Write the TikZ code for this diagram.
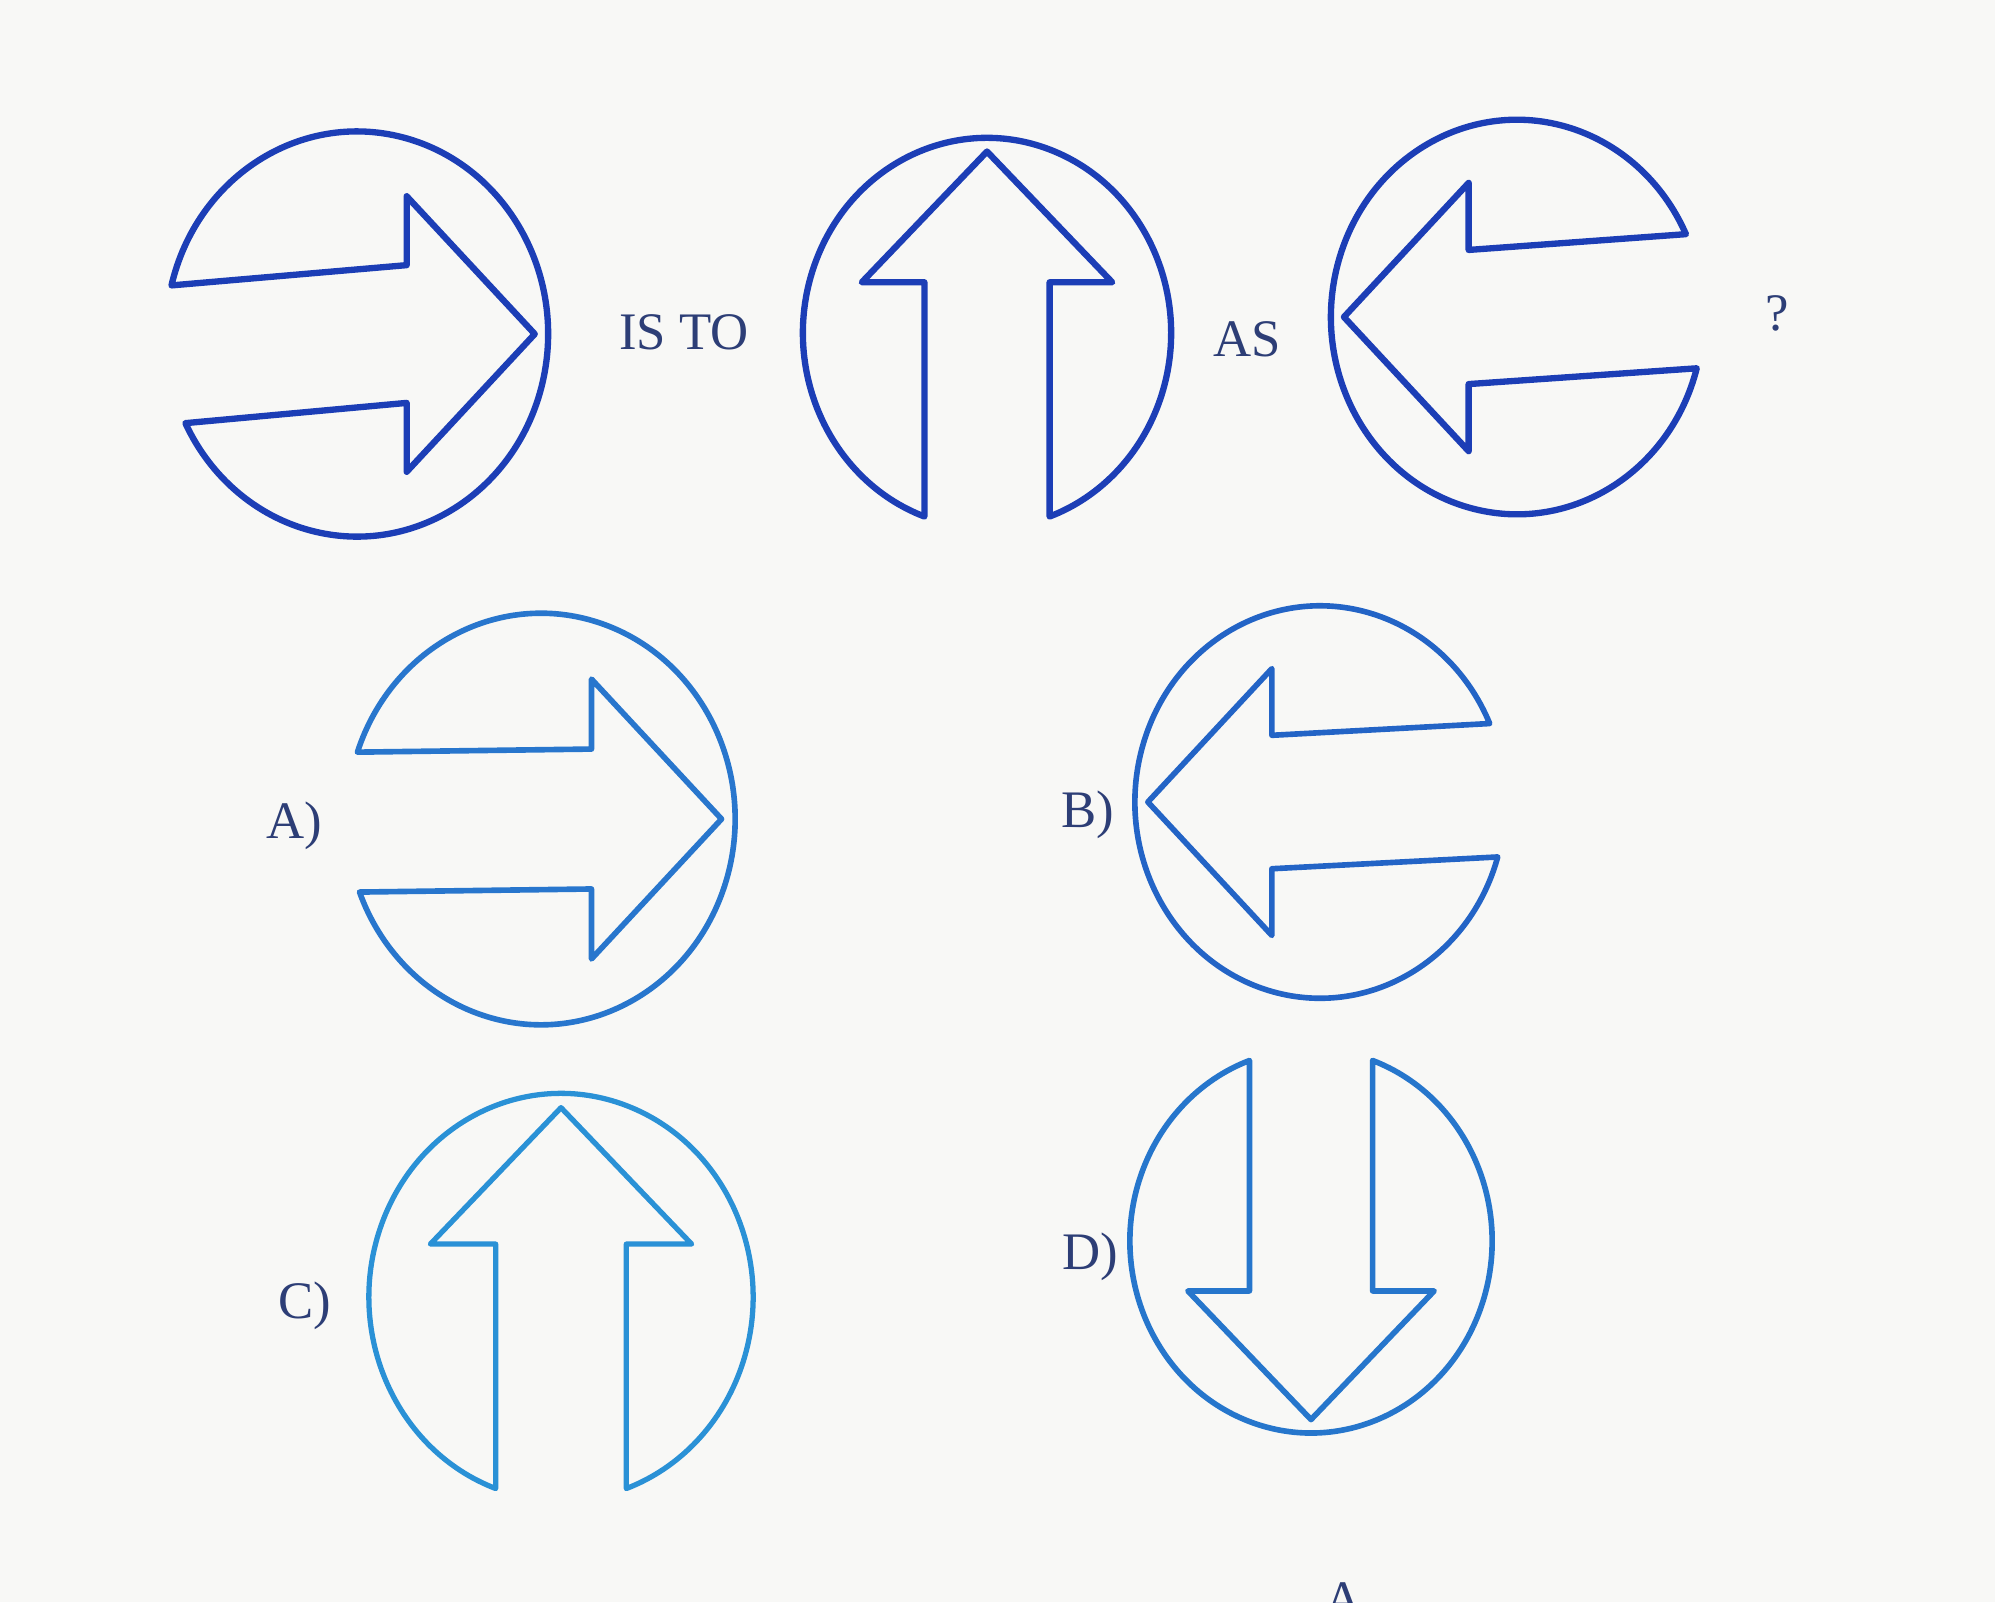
\documentclass[tikz,border=0pt]{standalone}
\usepackage{fontspec}
\setmainfont{Liberation Serif}
\usepackage{tikz}

\definecolor{paper}{RGB}{248,248,246}
\definecolor{inktop}{RGB}{28,62,182}
\definecolor{inka}{RGB}{40,118,205}
\definecolor{inkb}{RGB}{35,100,198}
\definecolor{inkc}{RGB}{42,145,214}
\definecolor{inkd}{RGB}{38,118,204}
\definecolor{textink}{RGB}{45,62,118}

% arrow proportions, in units of the disc radius
\newcommand{\shaftw}{0.34}
\newcommand{\headx}{0.26}
\newcommand{\headw}{0.68}
\newcommand{\tipx}{0.93}

% disc with an arrow cut into it
% #1 centre (px), #2 direction, #3 radius (cm), #4 shaft tilt, #5 style
\newcommand{\arrowdisc}[5]{%
  \begin{scope}[shift={(#1)}, yscale=1.06, rotate=#2, x=#3cm, y=#3cm]
    \pgfmathsetmacro{\angtop}{180-asin(\shaftw-#4)}
    \pgfmathsetmacro{\angbot}{asin(\shaftw+#4)-180}
    \draw[#5] (\angtop:1) arc[start angle=\angtop, end angle=\angbot, radius=1]
      -- (\headx,-\shaftw) -- (\headx,-\headw) -- (\tipx,0)
      -- (\headx,\headw) -- (\headx,\shaftw) -- cycle;
  \end{scope}}

\begin{document}
\begin{tikzpicture}[x=0.01cm, y=-0.01cm,
    qline/.style={draw=inktop, line width=1.8pt, line join=round},
    aline/.style={draw=inka, line width=1.6pt, line join=round},
    bline/.style={draw=inkb, line width=1.6pt, line join=round},
    cline/.style={draw=inkc, line width=1.5pt, line join=round},
    dline/.style={draw=inkd, line width=1.6pt, line join=round},
    lbl/.style={font=\fontsize{15}{18}\selectfont, text=textink, inner sep=0pt}]
    % Page
    \useasboundingbox (0,0) rectangle (1995,1602);
    \fill[paper] (0,0) rectangle (1995,1602);

    % Question row
    \arrowdisc{357,334}{0}{1.91}{0.10}{qline}
    \node[lbl] (isto) at (684,332) {IS TO};
    \arrowdisc{987,333}{90}{1.84}{0}{qline}
    \node[lbl] (as) at (1247,339) {AS};
    \arrowdisc{1517,317}{180}{1.86}{0.08}{qline}
    \node[lbl] (query) at (1777,313) {?};

    % Choices
    \node[lbl] (labA) at (294,826) {A)};
    \arrowdisc{541,819}{0}{1.94}{0.015}{aline}
    \node[lbl] (labB) at (1088,815) {B)};
    \arrowdisc{1320,802}{180}{1.85}{0.06}{bline}
    \node[lbl] (labC) at (305,1306) {C)};
    \arrowdisc{561,1297}{90}{1.92}{0}{cline}
    \node[lbl] (labD) at (1090,1257) {D)};
    \arrowdisc{1311,1241}{-90}{1.81}{0}{dline}

    % Answer, cut off by the page edge
    \node[lbl, anchor=north] (answer) at (1344,1582) {A};
\end{tikzpicture}
\end{document}
